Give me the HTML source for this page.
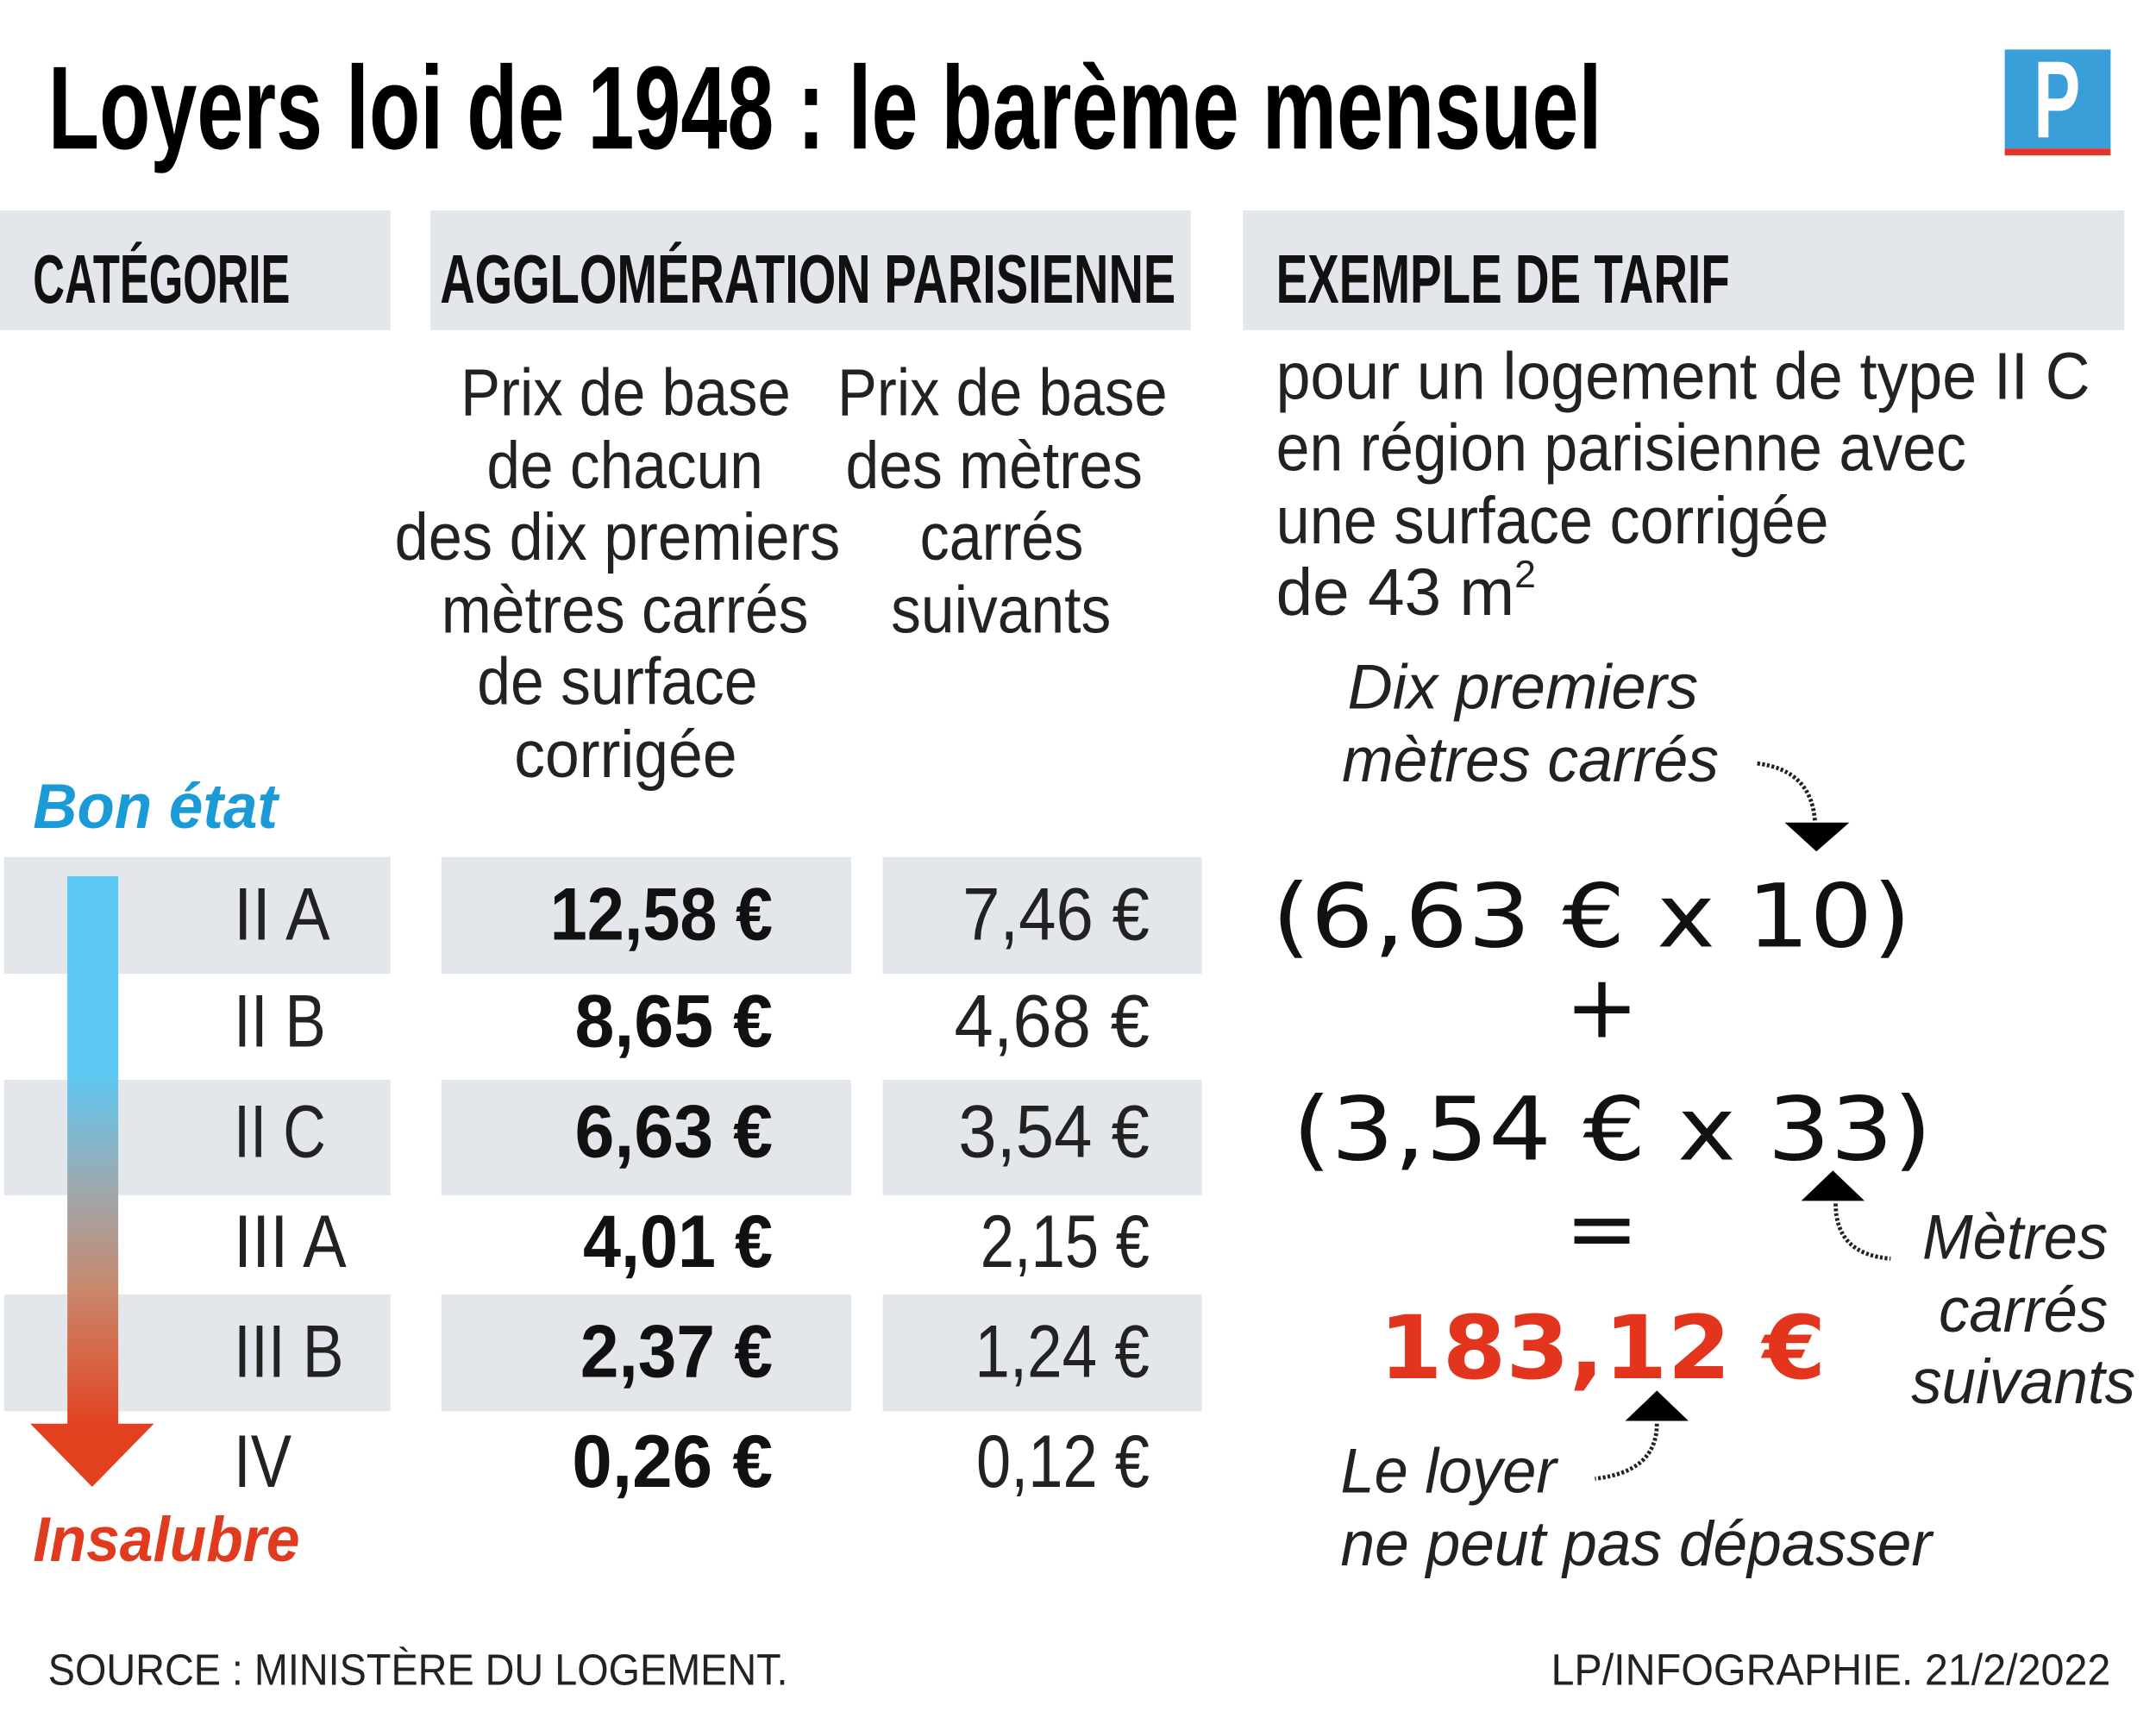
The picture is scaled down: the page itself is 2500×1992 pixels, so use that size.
<!DOCTYPE html>
<html><head><meta charset="utf-8"><style>
html,body{margin:0;padding:0;background:#fff}
svg{display:block}
text{font-family:"Liberation Sans Narrow","Liberation Sans",sans-serif}
.h{font-weight:bold;font-size:50px;fill:#111}
.l{font-size:48px;fill:#222}
.v{font-weight:bold;font-size:54px;fill:#111}
.w{font-size:54px;fill:#222}
.it{font-style:italic;font-size:46px;fill:#222}
.f{font-family:"DejaVu Sans","Liberation Sans",sans-serif;font-size:64px;fill:#111}
</style></head><body>
<svg width="2500" height="1992" viewBox="0 0 1568 1249" preserveAspectRatio="none" xmlns="http://www.w3.org/2000/svg">
<defs><linearGradient id="g" x1="0" y1="0" x2="0" y2="1">
<stop offset="0" stop-color="#5bc8f4"/><stop offset="0.35" stop-color="#5bc8f4"/><stop offset="0.55" stop-color="#9aabb3"/><stop offset="0.75" stop-color="#c9876a"/><stop offset="1" stop-color="#e2401f"/></linearGradient></defs>
<text x="35" y="108" font-weight="bold" font-size="86" fill="#000" textLength="1130" lengthAdjust="spacingAndGlyphs">Loyers loi de 1948 : le barème mensuel</text>
<rect x="1458" y="36" width="77" height="72" fill="#3a9fd9"/><rect x="1458" y="108" width="77" height="5" fill="#e3342a"/>
<text x="1496" y="100" font-weight="bold" font-size="80" fill="#fff" text-anchor="middle" textLength="34" lengthAdjust="spacingAndGlyphs">P</text>
<g fill="#e3e7eb">
<rect x="0" y="153" width="284" height="87"/><rect x="313" y="153" width="553" height="87"/><rect x="904" y="153" width="641" height="87"/>
<rect x="3" y="623" width="281" height="85"/><rect x="321" y="623" width="298" height="85"/><rect x="642" y="623" width="232" height="85"/>
<rect x="3" y="785" width="281" height="84"/><rect x="321" y="785" width="298" height="84"/><rect x="642" y="785" width="232" height="84"/>
<rect x="3" y="941" width="281" height="85"/><rect x="321" y="941" width="298" height="85"/><rect x="642" y="941" width="232" height="85"/>
</g>
<text class="h" x="24" y="220" textLength="187" lengthAdjust="spacingAndGlyphs">CATÉGORIE</text>
<text class="h" x="320" y="220" textLength="535" lengthAdjust="spacingAndGlyphs">AGGLOMÉRATION PARISIENNE</text>
<text class="h" x="928" y="220" textLength="330" lengthAdjust="spacingAndGlyphs">EXEMPLE DE TARIF</text>
<g class="l">
<text x="335" y="302" textLength="240" lengthAdjust="spacingAndGlyphs">Prix de base</text>
<text x="354" y="355" textLength="201" lengthAdjust="spacingAndGlyphs">de chacun</text>
<text x="287" y="407" textLength="324" lengthAdjust="spacingAndGlyphs">des dix premiers</text>
<text x="321" y="460" textLength="267" lengthAdjust="spacingAndGlyphs">mètres carrés</text>
<text x="347" y="512" textLength="204" lengthAdjust="spacingAndGlyphs">de surface</text>
<text x="374" y="565" textLength="162" lengthAdjust="spacingAndGlyphs">corrigée</text>
<text x="609" y="302" textLength="240" lengthAdjust="spacingAndGlyphs">Prix de base</text>
<text x="615" y="355" textLength="216" lengthAdjust="spacingAndGlyphs">des mètres</text>
<text x="669" y="407" textLength="119" lengthAdjust="spacingAndGlyphs">carrés</text>
<text x="648" y="460" textLength="160" lengthAdjust="spacingAndGlyphs">suivants</text>
</g>
<g class="l">
<text x="928" y="290" textLength="592" lengthAdjust="spacingAndGlyphs">pour un logement de type II C</text>
<text x="928" y="342" textLength="502" lengthAdjust="spacingAndGlyphs">en région parisienne avec</text>
<text x="928" y="395" textLength="402" lengthAdjust="spacingAndGlyphs">une surface corrigée</text>
<text x="928" y="447">de 43 m<tspan font-size="28" dy="-20">2</tspan></text>
</g>
<text class="it" x="980" y="515" textLength="255" lengthAdjust="spacingAndGlyphs">Dix premiers</text>
<text class="it" x="976" y="568" textLength="274" lengthAdjust="spacingAndGlyphs">mètres carrés</text>
<text x="24" y="602" font-weight="bold" font-style="italic" font-size="46" fill="#1a9ad6" textLength="178" lengthAdjust="spacingAndGlyphs">Bon état</text>
<text x="24" y="1135" font-weight="bold" font-style="italic" font-size="46" fill="#e03a1f" textLength="194" lengthAdjust="spacingAndGlyphs">Insalubre</text>
<rect x="49" y="637" width="37" height="403" fill="url(#g)"/>
<polygon points="22,1035 112,1035 67,1081" fill="#e2401f"/>
<g class="w">
<text x="170" y="683" textLength="70" lengthAdjust="spacingAndGlyphs">II A</text>
<text x="170" y="761" textLength="67" lengthAdjust="spacingAndGlyphs">II B</text>
<text x="170" y="841" textLength="67" lengthAdjust="spacingAndGlyphs">II C</text>
<text x="170" y="921" textLength="82" lengthAdjust="spacingAndGlyphs">III A</text>
<text x="170" y="1001" textLength="80" lengthAdjust="spacingAndGlyphs">III B</text>
<text x="170" y="1081" textLength="42" lengthAdjust="spacingAndGlyphs">IV</text></g>
<g class="v">
<text x="400" y="683" textLength="162" lengthAdjust="spacingAndGlyphs">12,58 €</text>
<text x="418" y="761" textLength="144" lengthAdjust="spacingAndGlyphs">8,65 €</text>
<text x="418" y="841" textLength="144" lengthAdjust="spacingAndGlyphs">6,63 €</text>
<text x="424" y="921" textLength="138" lengthAdjust="spacingAndGlyphs">4,01 €</text>
<text x="422" y="1001" textLength="140" lengthAdjust="spacingAndGlyphs">2,37 €</text>
<text x="416" y="1081" textLength="146" lengthAdjust="spacingAndGlyphs">0,26 €</text></g>
<g class="w">
<text x="700" y="683" textLength="136" lengthAdjust="spacingAndGlyphs">7,46 €</text>
<text x="694" y="761" textLength="142" lengthAdjust="spacingAndGlyphs">4,68 €</text>
<text x="697" y="841" textLength="139" lengthAdjust="spacingAndGlyphs">3,54 €</text>
<text x="713" y="921" textLength="123" lengthAdjust="spacingAndGlyphs">2,15 €</text>
<text x="709" y="1001" textLength="127" lengthAdjust="spacingAndGlyphs">1,24 €</text>
<text x="710" y="1081" textLength="126" lengthAdjust="spacingAndGlyphs">0,12 €</text></g>
<text class="f" x="925" y="688" textLength="465" lengthAdjust="spacingAndGlyphs">(6,63 € x 10)</text>
<text class="f" x="1165" y="754" text-anchor="middle" font-size="40">+</text>
<text class="f" x="940" y="843" textLength="465" lengthAdjust="spacingAndGlyphs">(3,54 € x 33)</text>
<text class="f" x="1165" y="915" text-anchor="middle" font-size="40">=</text>
<text class="f" x="1003" y="1002" font-weight="bold" style="fill:#e3341d" textLength="325" lengthAdjust="spacingAndGlyphs">183,12 €</text>
<g class="it"><text x="1398" y="915" textLength="135" lengthAdjust="spacingAndGlyphs">Mètres</text><text x="1410" y="968" textLength="123" lengthAdjust="spacingAndGlyphs">carrés</text><text x="1390" y="1020" textLength="163" lengthAdjust="spacingAndGlyphs">suivants</text>
<text x="975" y="1085" textLength="157" lengthAdjust="spacingAndGlyphs">Le loyer</text><text x="975" y="1138" textLength="430" lengthAdjust="spacingAndGlyphs">ne peut pas dépasser</text></g>
<g fill="none" stroke="#222" stroke-width="3" stroke-dasharray="2,1.5">
<path d="M1278,555 Q1318,560 1320,598"/><path d="M1335,875 Q1335,912 1375,915"/><path d="M1205,1035 Q1205,1070 1160,1075"/></g>
<polygon points="1298,598 1345,598 1321,619" fill="#000"/>
<polygon points="1310,873 1356,873 1333,851" fill="#000"/>
<polygon points="1182,1033 1228,1033 1205,1011" fill="#000"/>
<text x="35" y="1225" font-size="32" fill="#222" textLength="538" lengthAdjust="spacingAndGlyphs">SOURCE : MINISTÈRE DU LOGEMENT.</text>
<text x="1128" y="1225" font-size="32" fill="#222" textLength="407" lengthAdjust="spacingAndGlyphs">LP/INFOGRAPHIE.  21/2/2022</text>
</svg>
</body></html>
